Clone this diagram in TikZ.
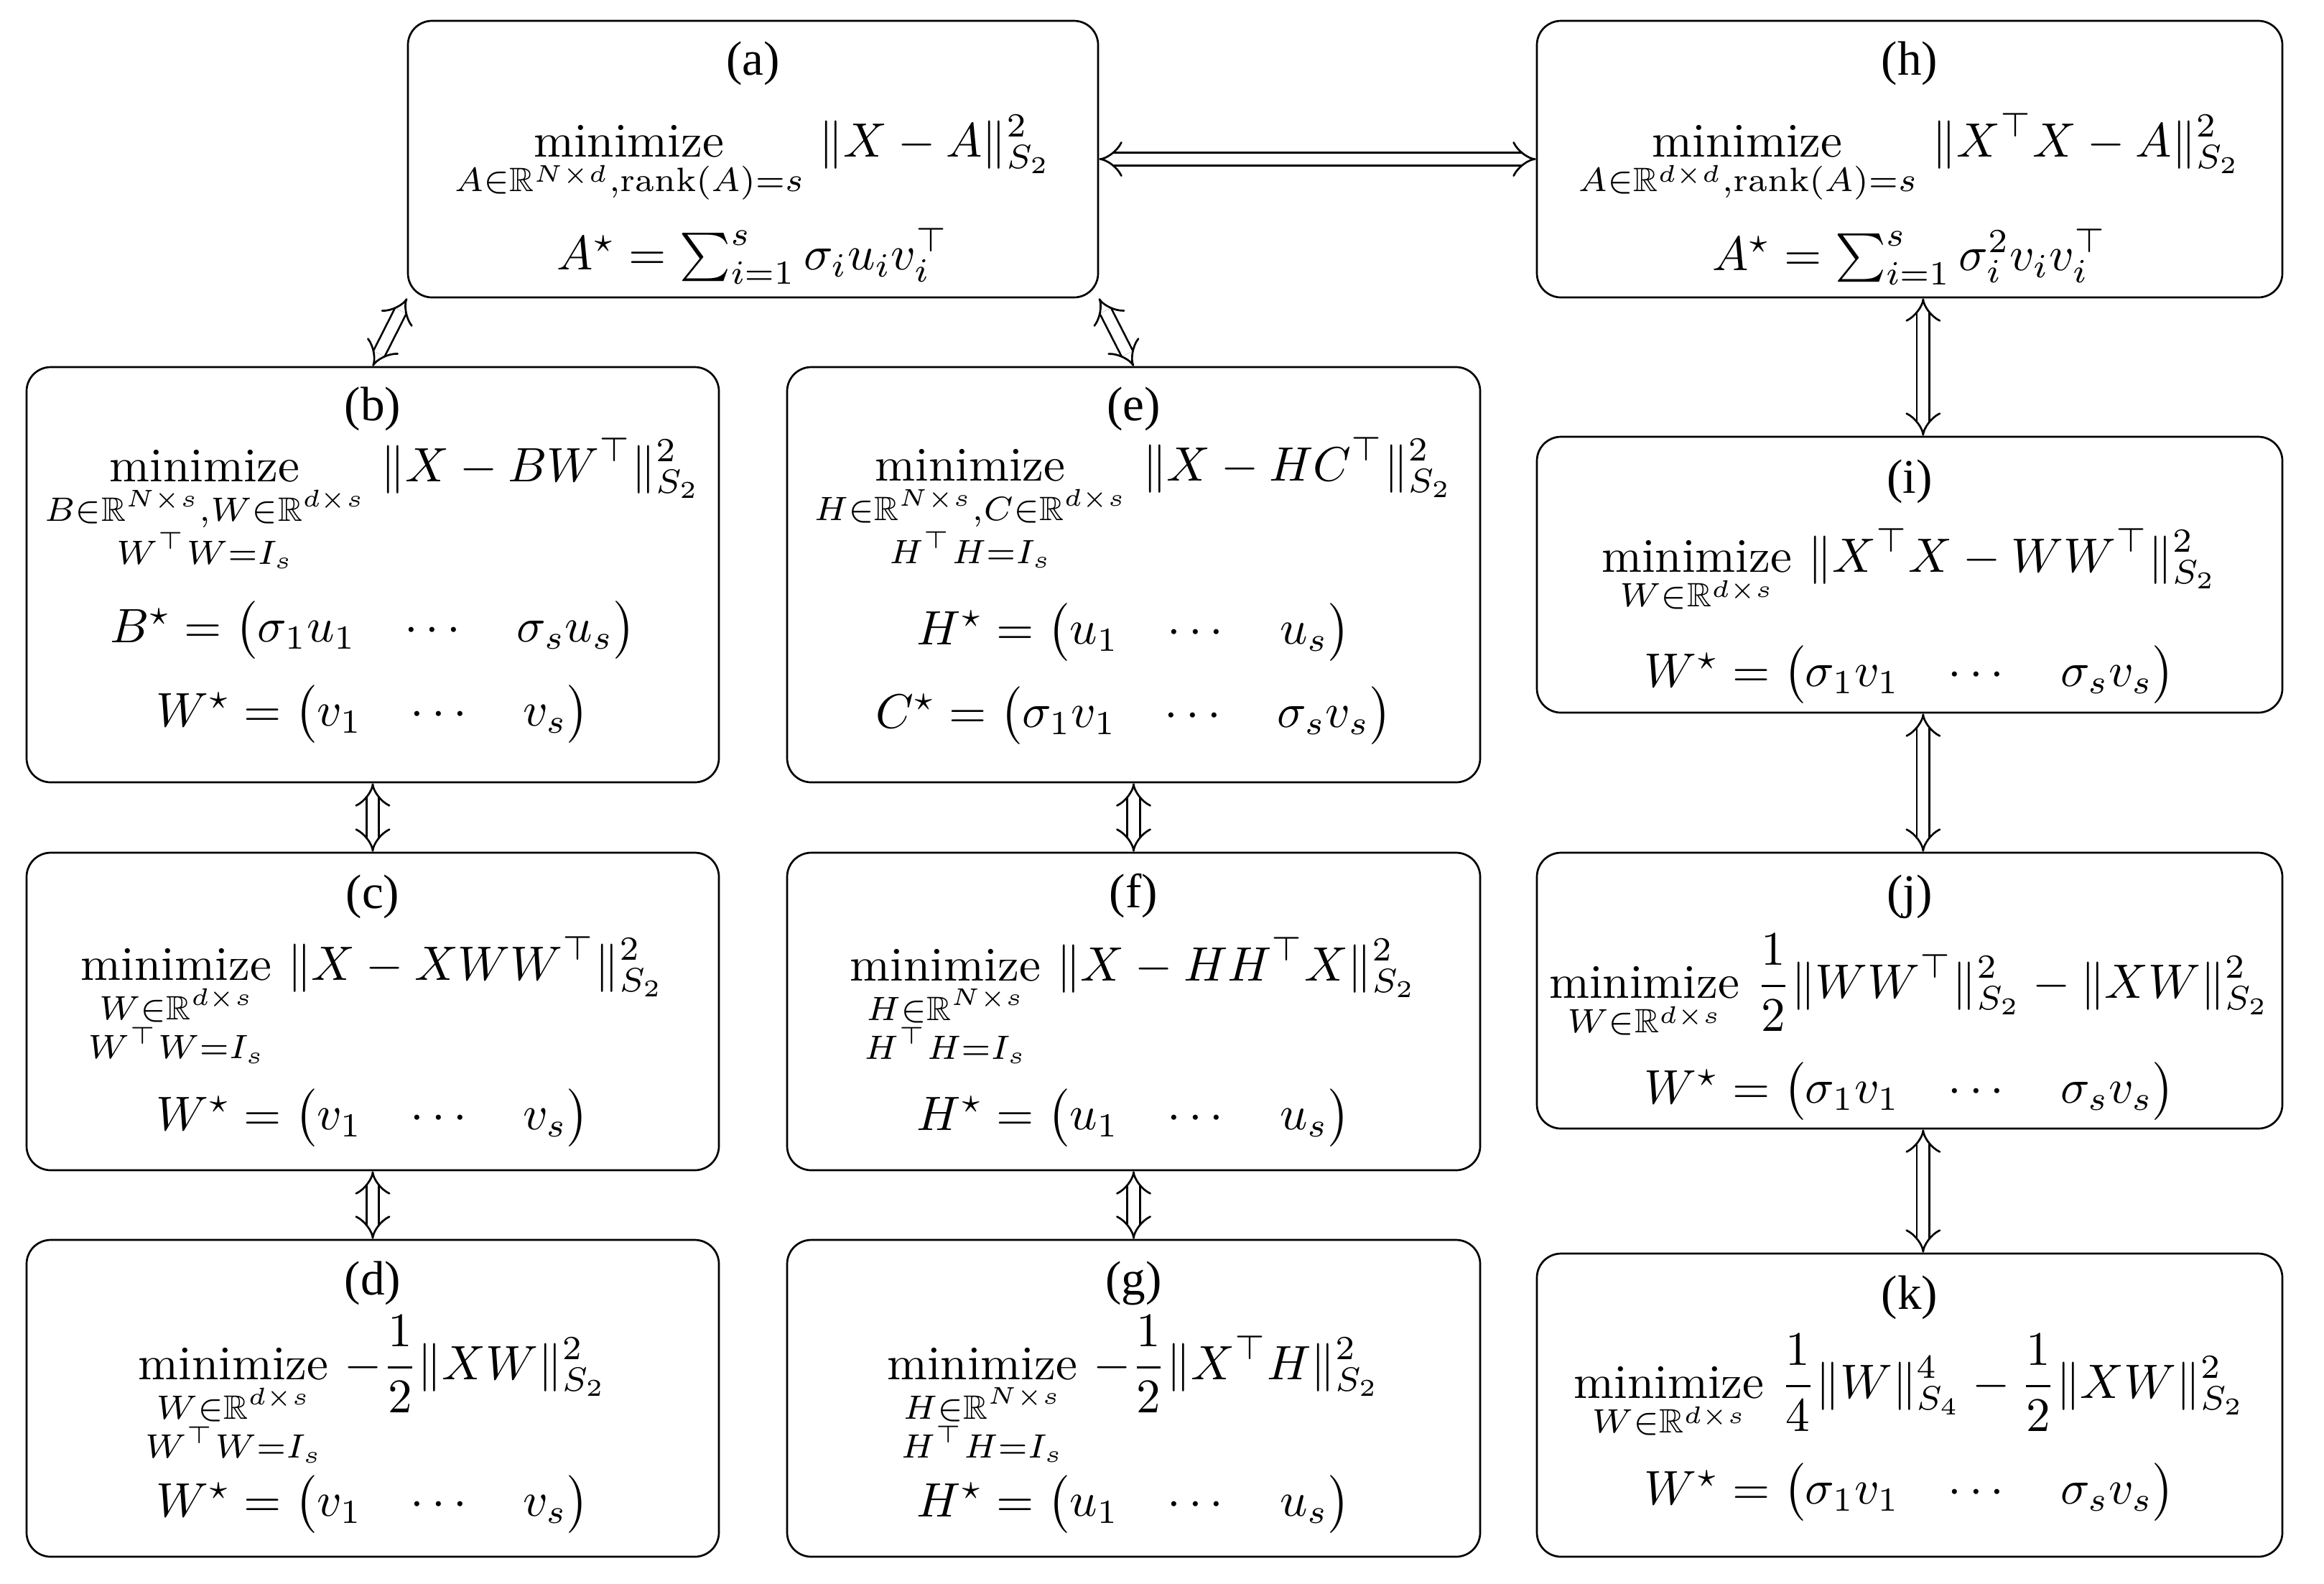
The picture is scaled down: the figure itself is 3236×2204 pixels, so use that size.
\documentclass[tikz,border=0pt]{standalone}
\usepackage{amsmath,amssymb}
\usepackage{fontspec}
\newfontfamily\tagfont{Liberation Serif}
\usetikzlibrary{arrows.meta,fit}
\tikzset{
  panel/.style={draw, rounded corners=5pt, line width=0.4pt, inner sep=0pt},
  tag/.style={anchor=base, font=\tagfont, inner sep=0pt},
  eq/.style={anchor=base, inner sep=0pt},
  equiv/.style={double, double distance=2.2pt, line width=0.4pt, {Implies}-{Implies}}
}

\begin{document}
\begin{tikzpicture}[x=0.1488pt, y=-0.1488pt]
  \useasboundingbox (0,0) rectangle (3236,2204);

  % panels
  \node[panel, fit={(568,29) (1529,414)}] (a) {};
  \node[panel, fit={(2140,29) (3178,414)}] (h) {};
  \node[panel, fit={(37,511) (1001,1089)}] (b) {};
  \node[panel, fit={(1096,511) (2061,1089)}] (e) {};
  \node[panel, fit={(2140,608) (3178,992)}] (i) {};
  \node[panel, fit={(37,1187) (1001,1629)}] (c) {};
  \node[panel, fit={(1096,1187) (2061,1629)}] (f) {};
  \node[panel, fit={(2140,1187) (3178,1571)}] (j) {};
  \node[panel, fit={(37,1726) (1001,2167)}] (d) {};
  \node[panel, fit={(1096,1726) (2061,2167)}] (g) {};
  \node[panel, fit={(2140,1745) (3178,2167)}] (k) {};

  % (a)
  \node[tag] (a-t) at (1048.5,104) {(a)};
  \node[eq] (a-m) at (1048.5,218) {$\displaystyle\operatorname*{minimize}_{A\in\mathbb{R}^{N\times d},\operatorname{rank}(A)=s}\,\|X-A\|_{S_2}^2$};
  \node[eq] (a-s) at (1048.5,375) {$A^\star=\sum_{i=1}^{s}\sigma_iu_iv_i^\top$};

  % (h)
  \node[tag] (h-t) at (2659,104) {(h)};
  \node[eq] (h-m) at (2659,218) {$\displaystyle\operatorname*{minimize}_{A\in\mathbb{R}^{d\times d},\operatorname{rank}(A)=s}\,\|X^\top X-A\|_{S_2}^2$};
  \node[eq] (h-s) at (2659,376) {$A^\star=\sum_{i=1}^{s}\sigma_i^2v_iv_i^\top$};

  % (b)
  \node[tag] (b-t) at (519,585) {(b)};
  \node[eq] (b-m) at (519,670) {$\displaystyle\operatorname*{minimize}_{\substack{B\in\mathbb{R}^{N\times s},W\in\mathbb{R}^{d\times s}\\ W^\top W=I_s}}\,\|X-BW^\top\|_{S_2}^2$};
  \node[eq] (b-s) at (519,894) {$B^\star=\begin{pmatrix}\sigma_1u_1 & \cdots & \sigma_su_s\end{pmatrix}$};
  \node[eq] (b-w) at (519,1011) {$W^\star=\begin{pmatrix}v_1 & \cdots & v_s\end{pmatrix}$};

  % (e)
  \node[tag] (e-t) at (1578.5,585) {(e)};
  \node[eq] (e-m) at (1578.5,669) {$\displaystyle\operatorname*{minimize}_{\substack{H\in\mathbb{R}^{N\times s},C\in\mathbb{R}^{d\times s}\\ H^\top H=I_s}}\,\|X-HC^\top\|_{S_2}^2$};
  \node[eq] (e-s) at (1578.5,897) {$H^\star=\begin{pmatrix}u_1 & \cdots & u_s\end{pmatrix}$};
  \node[eq] (e-w) at (1578.5,1013) {$C^\star=\begin{pmatrix}\sigma_1v_1 & \cdots & \sigma_sv_s\end{pmatrix}$};

  % (i)
  \node[tag] (i-t) at (2659,686) {(i)};
  \node[eq] (i-m) at (2659,796) {$\displaystyle\operatorname*{minimize}_{W\in\mathbb{R}^{d\times s}}\,\|X^\top X-WW^\top\|_{S_2}^2$};
  \node[eq] (i-s) at (2659,956) {$W^\star=\begin{pmatrix}\sigma_1v_1 & \cdots & \sigma_sv_s\end{pmatrix}$};

  % (c)
  \node[tag] (c-t) at (519,1264) {(c)};
  \node[eq] (c-m) at (519,1364) {$\displaystyle\operatorname*{minimize}_{\substack{W\in\mathbb{R}^{d\times s}\\ W^\top W=I_s}}\,\|X-XWW^\top\|_{S_2}^2$};
  \node[eq] (c-s) at (519,1573) {$W^\star=\begin{pmatrix}v_1 & \cdots & v_s\end{pmatrix}$};

  % (f)
  \node[tag] (f-t) at (1578.5,1263) {(f)};
  \node[eq] (f-m) at (1578.5,1365) {$\displaystyle\operatorname*{minimize}_{\substack{H\in\mathbb{R}^{N\times s}\\ H^\top H=I_s}}\,\|X-HH^\top X\|_{S_2}^2$};
  \node[eq] (f-s) at (1578.5,1573) {$H^\star=\begin{pmatrix}u_1 & \cdots & u_s\end{pmatrix}$};

  % (j)
  \node[tag] (j-t) at (2659,1264) {(j)};
  \node[eq] (j-m) at (2659,1389) {$\displaystyle\operatorname*{minimize}_{W\in\mathbb{R}^{d\times s}}\,\frac{1}{2}\|WW^\top\|_{S_2}^2-\|XW\|_{S_2}^2$};
  \node[eq] (j-s) at (2659,1536) {$W^\star=\begin{pmatrix}\sigma_1v_1 & \cdots & \sigma_sv_s\end{pmatrix}$};

  % (d)
  \node[tag] (d-t) at (519,1802) {(d)};
  \node[eq] (d-m) at (519,1920) {$\displaystyle\operatorname*{minimize}_{\substack{W\in\mathbb{R}^{d\times s}\\ W^\top W=I_s}}\,-\frac{1}{2}\|XW\|_{S_2}^2$};
  \node[eq] (d-s) at (519,2111) {$W^\star=\begin{pmatrix}v_1 & \cdots & v_s\end{pmatrix}$};

  % (g)
  \node[tag] (g-t) at (1578.5,1802) {(g)};
  \node[eq] (g-m) at (1578.5,1920) {$\displaystyle\operatorname*{minimize}_{\substack{H\in\mathbb{R}^{N\times s}\\ H^\top H=I_s}}\,-\frac{1}{2}\|X^\top H\|_{S_2}^2$};
  \node[eq] (g-s) at (1578.5,2111) {$H^\star=\begin{pmatrix}u_1 & \cdots & u_s\end{pmatrix}$};

  % (k)
  \node[tag] (k-t) at (2659,1822) {(k)};
  \node[eq] (k-m) at (2659,1946) {$\displaystyle\operatorname*{minimize}_{W\in\mathbb{R}^{d\times s}}\,\frac{1}{4}\|W\|_{S_4}^4-\frac{1}{2}\|XW\|_{S_2}^2$};
  \node[eq] (k-s) at (2659,2094) {$W^\star=\begin{pmatrix}\sigma_1v_1 & \cdots & \sigma_sv_s\end{pmatrix}$};

  % equivalences
  \draw[equiv] (a) -- (h);
  \draw[equiv] (a.south west) -- (b.north);
  \draw[equiv] (a.south east) -- (e.north);
  \draw[equiv] (b.south) -- (c.north);
  \draw[equiv] (c.south) -- (d.north);
  \draw[equiv] (e.south) -- (f.north);
  \draw[equiv] (f.south) -- (g.north);
  \draw[equiv] ([xshift=2.8pt]h.south) -- ([xshift=2.8pt]i.north);
  \draw[equiv] ([xshift=2.8pt]i.south) -- ([xshift=2.8pt]j.north);
  \draw[equiv] ([xshift=2.8pt]j.south) -- ([xshift=2.8pt]k.north);
\end{tikzpicture}
\end{document}
